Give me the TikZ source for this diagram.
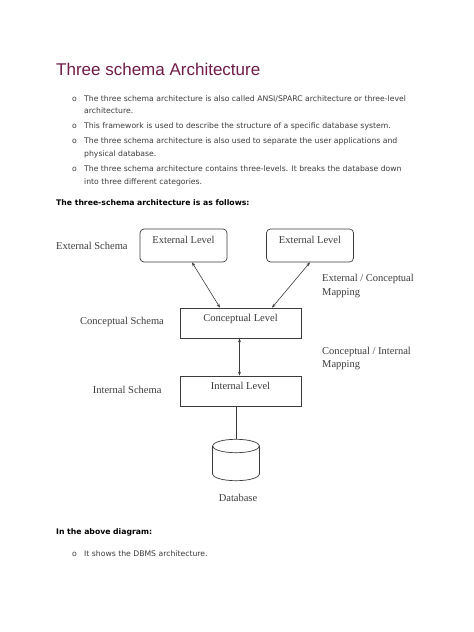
\documentclass[tikz,border=0pt]{standalone}
\usepackage{fontspec}
\setmainfont{Liberation Serif}
\newfontfamily\bodyfont{DejaVu Sans}
\newfontfamily\titlefont{Liberation Sans}
\usetikzlibrary{arrows.meta}
\definecolor{titlered}{RGB}{112,28,72}
\definecolor{inkgray}{RGB}{60,60,60}
\begin{document}
\begin{tikzpicture}[x=1pt,y=-1pt,
    body/.style={anchor=base west,inner sep=0pt,font=\bodyfont\fontsize{7.7}{9}\selectfont,text=inkgray},
    bodybold/.style={body,font=\bodyfont\bfseries\fontsize{7.7}{9}\selectfont,text=black},
    lvl/.style={draw=inkgray,line width=0.7pt,minimum width=121pt,minimum height=30pt,inner sep=0pt,
      text height=7pt,text depth=11pt,font=\fontsize{10.5}{12}\selectfont,text=inkgray},
    extlvl/.style={lvl,rounded corners=4pt,minimum width=87pt,minimum height=33pt},
    side/.style={anchor=base west,inner sep=0pt,font=\fontsize{10.5}{12}\selectfont,text=inkgray},
    map/.style={draw=inkgray,line width=0.6pt,{Stealth[length=4pt,width=3pt]}-{Stealth[length=4pt,width=3pt]}}]
  \useasboundingbox[fill=white] (0,0) rectangle (474,632);
  \node[anchor=base west,inner sep=0pt,font=\titlefont\fontsize{17}{20}\selectfont,text=titlered] (title) at (56,75.7) {Three schema Architecture};
  \node[body] (dot1) at (72,101.5) {o};
  \node[body] (b1a) at (84,101.5) {The three schema architecture is also called ANSI/SPARC architecture or three-level};
  \node[body] (b1b) at (84,113.5) {architecture.};
  \node[body] (dot2) at (72,128.5) {o};
  \node[body] (b2) at (84,128.5) {This framework is used to describe the structure of a specific database system.};
  \node[body] (dot3) at (72,143.5) {o};
  \node[body] (b3a) at (84,143.5) {The three schema architecture is also used to separate the user applications and};
  \node[body] (b3b) at (84,156.5) {physical database.};
  \node[body] (dot4) at (72,171.5) {o};
  \node[body] (b4a) at (84,171.5) {The three schema architecture contains three-levels. It breaks the database down};
  \node[body] (b4b) at (84,184.5) {into three different categories.};
  \node[bodybold] (head) at (56,205.5) {The three-schema architecture is as follows:};
  \node[extlvl] (ext1) at (183.5,245.5) {External Level};
  \node[extlvl] (ext2) at (310,245.5) {External Level};
  \node[lvl] (conc) at (240.5,323) {Conceptual Level};
  \node[lvl] (int) at (240.5,391) {Internal Level};
  \coordinate (dbtop) at (236,439.3);
  \draw[inkgray,line width=0.7pt] (236,446) ellipse [x radius=23.5pt,y radius=6.7pt];
  \draw[inkgray,line width=0.7pt] (212.5,446) -- (212.5,474)
    arc[start angle=180,end angle=360,x radius=23.5pt,y radius=6.7pt] -- (259.5,446);
  \node[side] (extschema) at (56,249) {External Schema};
  \node[side] (concschema) at (80,324) {Conceptual Schema};
  \node[side] (intschema) at (92.7,393.5) {Internal Schema};
  \node[side] (ecmap1) at (322,281.5) {External / Conceptual};
  \node[side] (ecmap2) at (322,295) {Mapping};
  \node[side] (cimap1) at (322,354.5) {Conceptual / Internal};
  \node[side] (cimap2) at (322,367.5) {Mapping};
  \node[side,anchor=base] (dbname) at (238,501) {Database};
  \draw[map] ([xshift=8.5pt]ext1.south) -- ([xshift=-20.5pt]conc.north);
  \draw[map] (ext2.south) -- ([xshift=31.5pt]conc.north);
  \draw[map] ([xshift=-1pt]conc.south) -- ([xshift=-1pt]int.north);
  \draw[draw=inkgray,line width=0.6pt] (dbtop |- int.south) -- (dbtop);
  \node[bodybold] (after) at (56,534) {In the above diagram:};
  \node[body] (dot5) at (72,556.5) {o};
  \node[body] (b5) at (84,556.5) {It shows the DBMS architecture.};
\end{tikzpicture}
\end{document}
